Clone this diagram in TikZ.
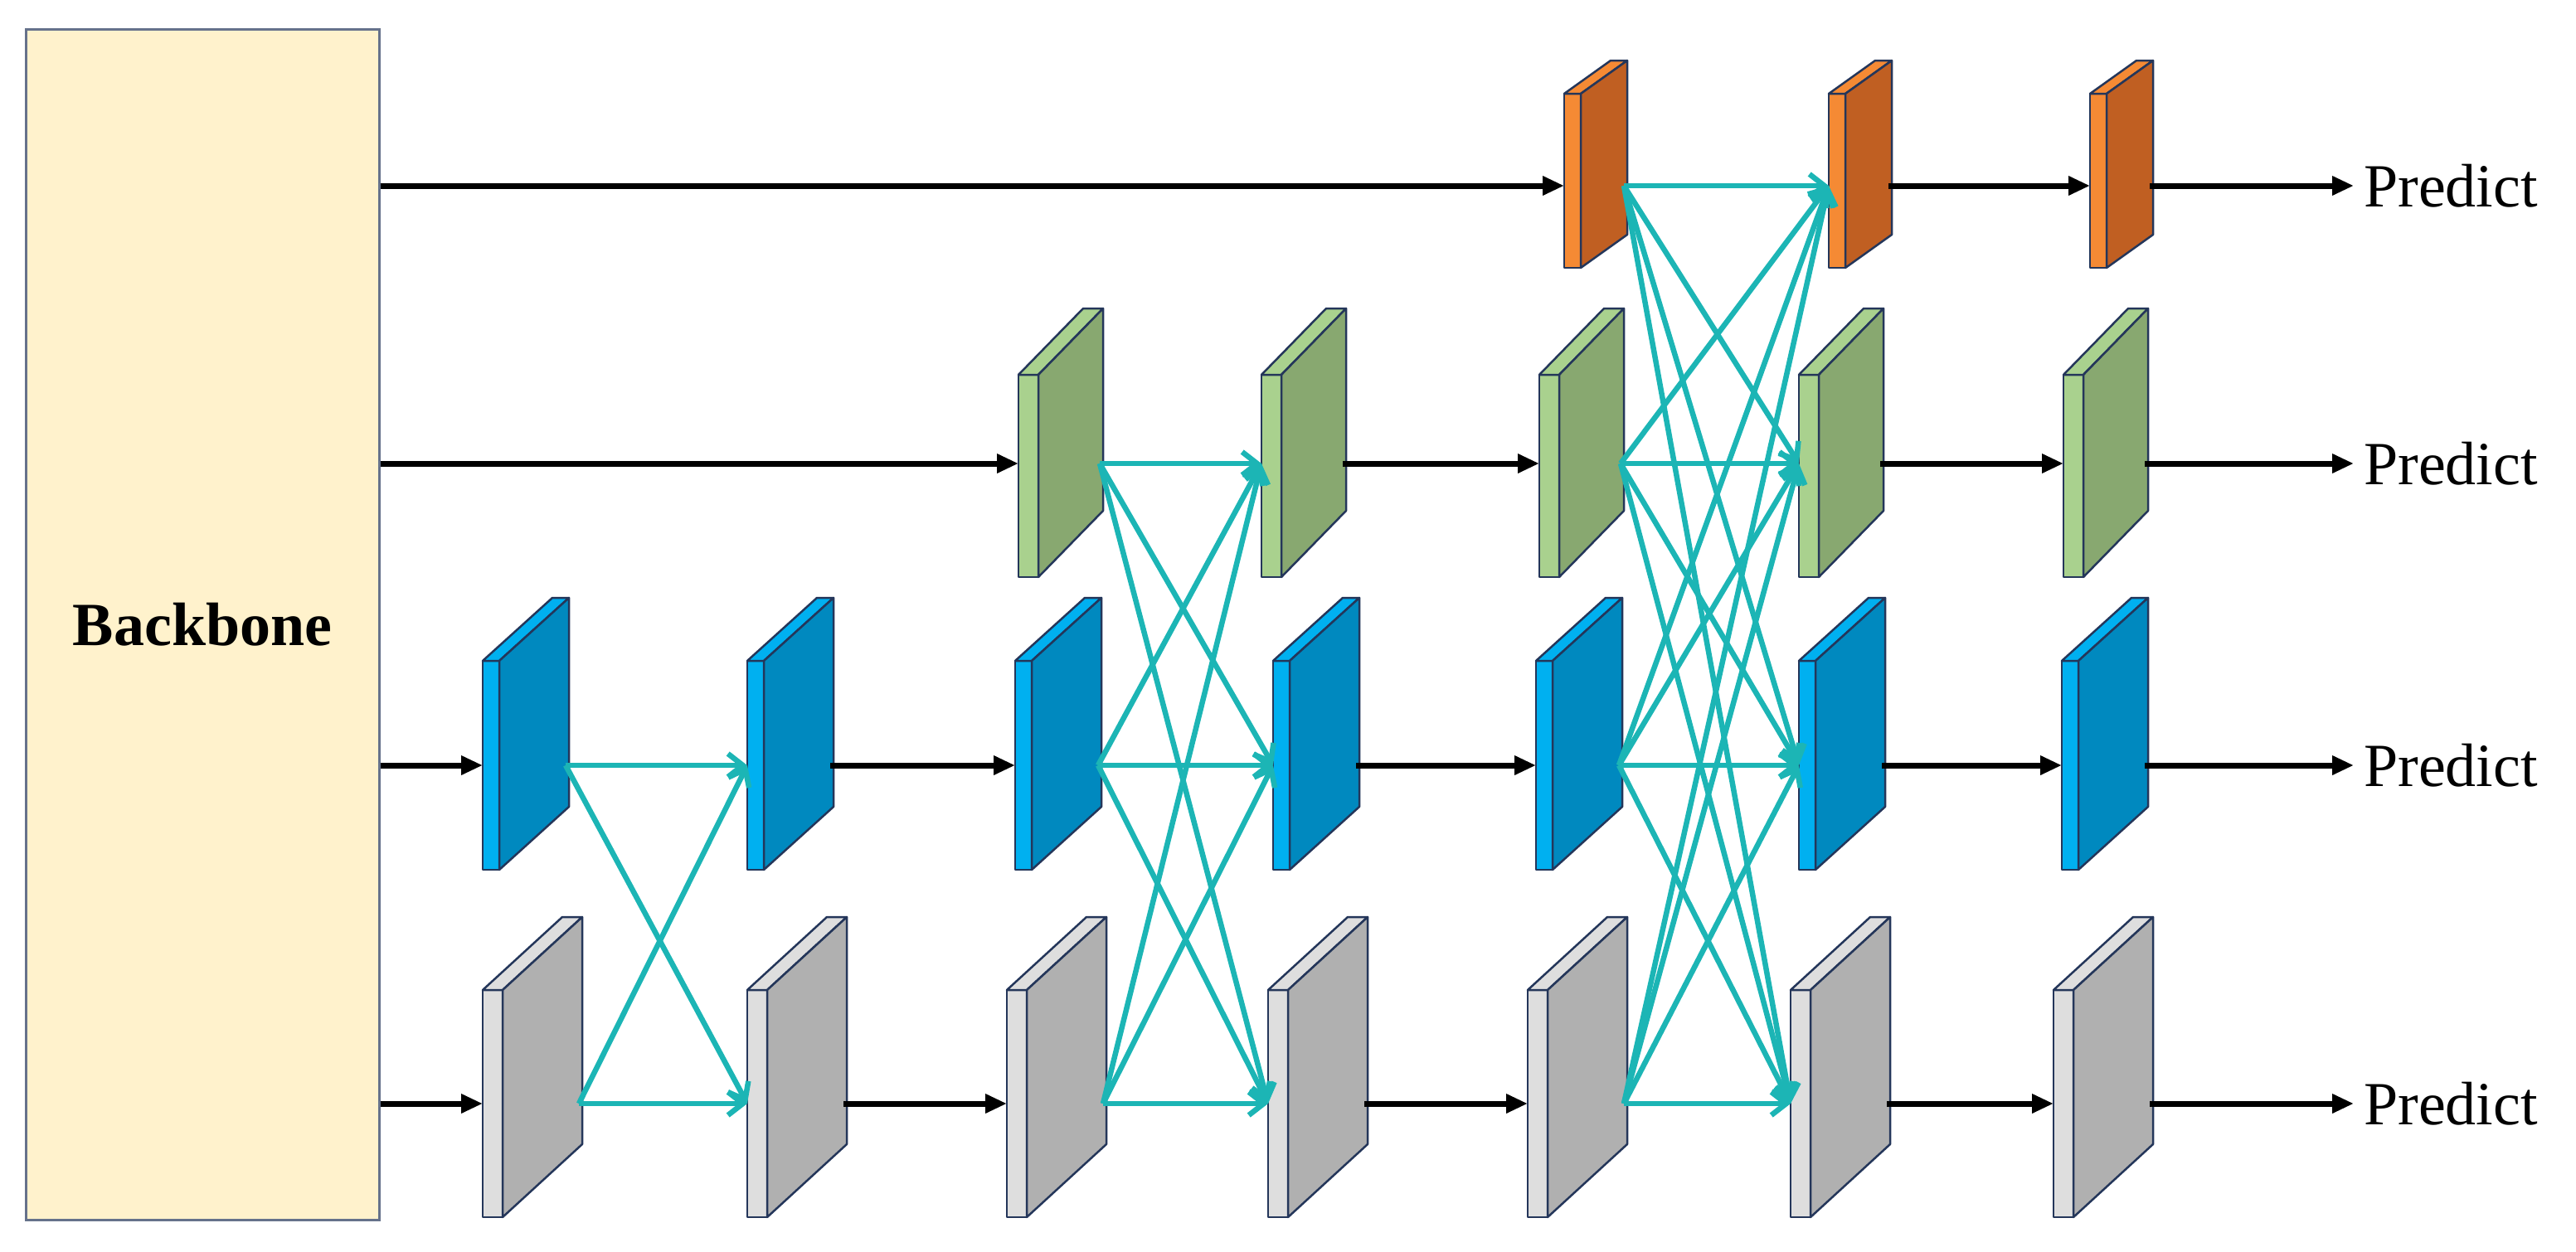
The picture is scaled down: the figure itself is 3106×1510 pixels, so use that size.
\documentclass[tikz,border=0pt]{standalone}
\usepackage{fontspec}
\setmainfont{Liberation Serif}
\usetikzlibrary{arrows.meta}
\definecolor{grayF}{HTML}{DEDEDE}\definecolor{grayS}{HTML}{B0B0B0}
\definecolor{blueF}{HTML}{00B0F0}\definecolor{blueS}{HTML}{0089BF}
\definecolor{greenF}{HTML}{A9D18E}\definecolor{greenS}{HTML}{88A870}
\definecolor{orangeF}{HTML}{F58A34}\definecolor{orangeS}{HTML}{C05F22}
\definecolor{edge}{HTML}{24365A}\definecolor{teal}{HTML}{1CB5B5}
\definecolor{bbfill}{HTML}{FFF2CC}
\tikzset{
 blkarrow/.style={line width=7pt,-{Triangle[length=26pt,width=22pt]}},
 cyarrow/.style={teal,line width=6.5pt,-{Straight Barb[length=18pt,width=28pt]}},
 face/.style={draw=edge,line width=2.5pt,line join=round},
 predict/.style={anchor=west,inner sep=12pt,font=\fontsize{74}{80}\selectfont}
}
\begin{document}
\begin{tikzpicture}[x=1pt,y=-1pt]
\useasboundingbox (0,0) rectangle (3106,1510);
\node[draw=edge!70,line width=2.5pt,fill=bbfill,minimum width=426pt,minimum height=1436pt,anchor=north west,font=\fontsize{74}{80}\selectfont\bfseries] (bb) at (30,34) {Backbone};
\foreach \t/\s/\rowy/\cy/\w/\h/\dx/\dy/\fc/\sc/\cols in {
 g/1/1331/1331/24/274/96/88/grayF/grayS/{582,901,1214,1529,1842,2159,2476},
 b/1/923/923/20/252/84/76/blueF/blueS/{582,901,1224,1535,1852,2169,2486},
 n/3/559/574/24/244/78/80/greenF/greenS/{1228,1521,1856,2169,2488},
 o/5/224/218/20/210/56/40/orangeF/orangeS/{1886,2205,2520}}{
 \foreach \x [count=\i from \s] in \cols {
  \pgfmathsetmacro\top{\cy-\h/2}\pgfmathsetmacro\bot{\cy+\h/2}
  \filldraw[face,fill=\fc] (\x,\top) rectangle ({\x+\w},\bot);
  \filldraw[face,fill=\fc] (\x,\top) -- ({\x+\dx},{\top-\dy}) -- ({\x+\w+\dx},{\top-\dy}) -- ({\x+\w},\top) -- cycle;
  \filldraw[face,fill=\sc] ({\x+\w},\top) -- ({\x+\w+\dx},{\top-\dy}) -- ({\x+\w+\dx},{\bot-\dy}) -- ({\x+\w},\bot) -- cycle;
  \coordinate (\t I\i) at (\x,\rowy);
  \coordinate (\t O\i) at ({\x+\w+\dx-4},\rowy);
 }
}
% backbone arrows
\draw[blkarrow] (bb.east |- gI1) -- (gI1);
\draw[blkarrow] (bb.east |- bI1) -- (bI1);
\draw[blkarrow] (bb.east |- nI3) -- (nI3);
\draw[blkarrow] (bb.east |- oI5) -- (oI5);
% plain arrows
\foreach \a/\b in {gO2/gI3,bO2/bI3,gO4/gI5,bO4/bI5,nO4/nI5,gO6/gI7,bO6/bI7,nO6/nI7,oO6/oI7}
 \draw[blkarrow] (\a) -- (\b);
% cyan connections
\foreach \a in {b,g}{\foreach \b in {b,g}{\draw[cyarrow] (\a O1) -- (\b I2);}}
\foreach \a in {n,b,g}{\foreach \b in {n,b,g}{\draw[cyarrow] (\a O3) -- (\b I4);}}
\foreach \a in {o,n,b,g}{\foreach \b in {o,n,b,g}{\draw[cyarrow] (\a O5) -- (\b I6);}}
% predict
\coordinate (px) at (2838,0);
\foreach \t in {o,n,b,g}{
 \node[predict] (p\t) at (px |- \t I7) {Predict};
 \draw[blkarrow] (\t O7) -- (p\t.west);
}
\end{tikzpicture}
\end{document}
